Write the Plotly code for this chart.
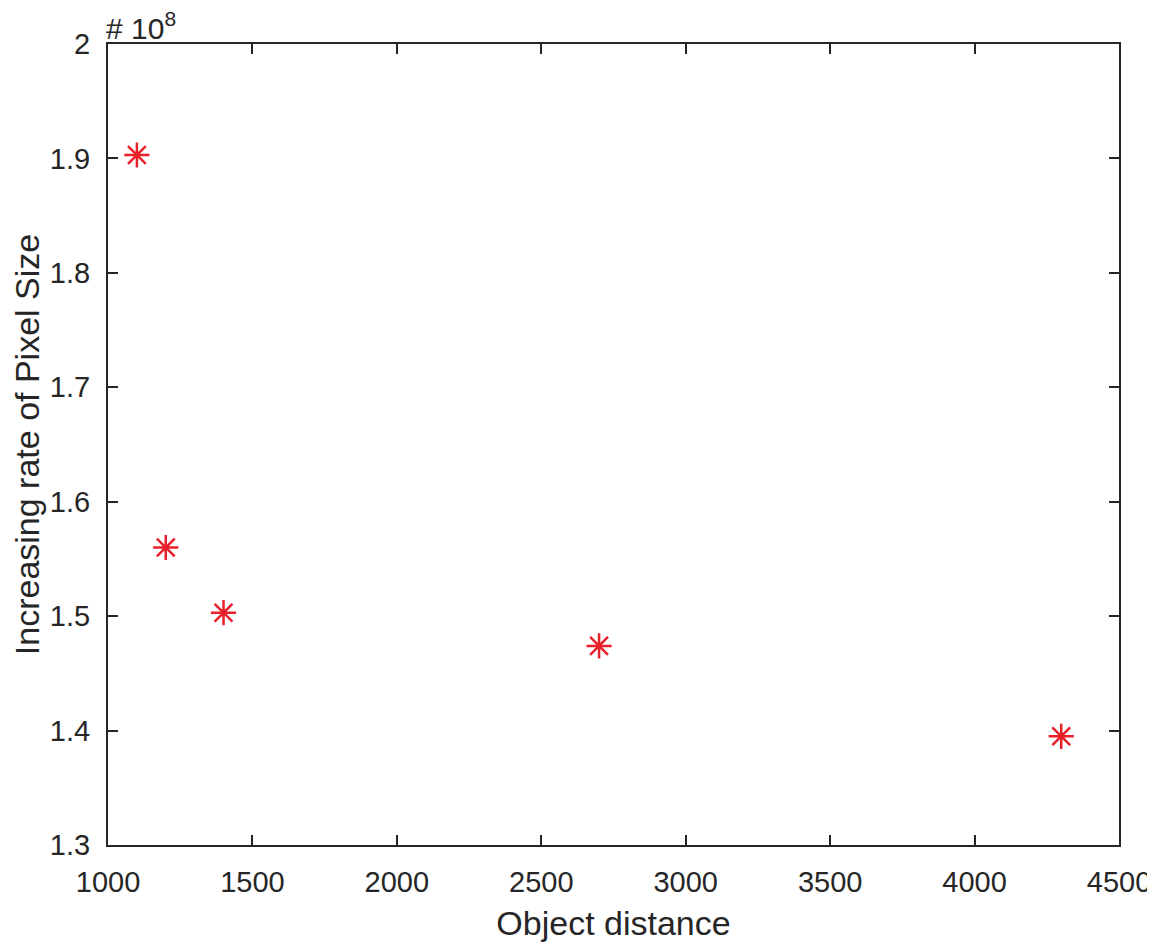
import plotly.graph_objects as go

object_distance = [1100, 1200, 1400, 2700, 4300]
increase_rate = [1.903e8, 1.560e8, 1.503e8, 1.474e8, 1.395e8]

x_ticks = [1000, 1500, 2000, 2500, 3000, 3500, 4000, 4500]
y_tick_vals = [1.3e8, 1.4e8, 1.5e8, 1.6e8, 1.7e8, 1.8e8, 1.9e8, 2.0e8]
y_tick_text = ["1.3", "1.4", "1.5", "1.6", "1.7", "1.8", "1.9", "2"]

FONT = "Liberation Sans, Arial, sans-serif"
INK = "#262626"

fig = go.Figure()
fig.add_trace(go.Scatter(
    x=object_distance, y=increase_rate, mode="markers",
    marker=dict(symbol="asterisk-open", size=21, color="#e8202a",
                line=dict(color="#e8202a", width=2.5)),
    showlegend=False,
))

axis_common = dict(
    showgrid=False, zeroline=False, showline=True, linecolor=INK,
    linewidth=2, mirror="ticks", ticks="inside", ticklen=10, tickwidth=1.6,
    tickcolor=INK, tickfont=dict(family=FONT, size=29, color=INK),
)

fig.update_layout(
    width=1155, height=949,
    margin=dict(l=97, r=33, t=36, b=112),
    paper_bgcolor="white", plot_bgcolor="white",
    font=dict(family=FONT, color=INK),
    xaxis=dict(range=[1000, 4500], tickvals=x_ticks, ticklabelstandoff=10,
               title=dict(text="Object distance", font=dict(family=FONT, size=34, color=INK), standoff=14),
               **axis_common),
    yaxis=dict(range=[1.3e8, 2.0e8], tickvals=y_tick_vals, ticktext=y_tick_text,
               ticklabelstandoff=10,
               title=dict(text="Increasing rate of Pixel Size", font=dict(family=FONT, size=34, color=INK), standoff=6),
               **axis_common),
    annotations=[dict(
        xref="paper", yref="paper", x=0, y=1, xanchor="left", yanchor="bottom",
        xshift=-4, yshift=-3,
        text="# 10<sup>8</sup>", showarrow=False,
        font=dict(family=FONT, size=30, color=INK),
    )],
)

fig.write_html("out.html")
